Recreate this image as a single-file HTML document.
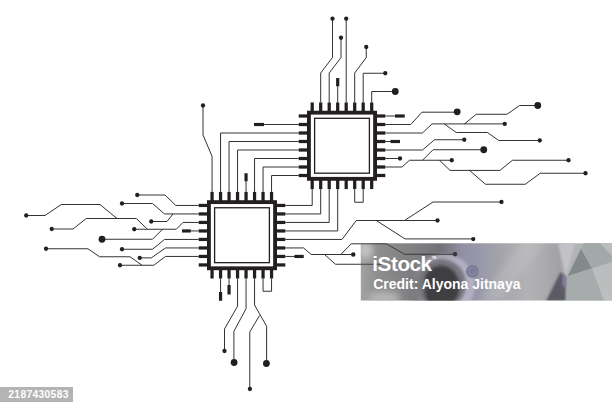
<!DOCTYPE html>
<html><head><meta charset="utf-8"><title>circuit</title>
<style>
html,body{margin:0;padding:0;background:#fff;}
body{width:612px;height:408px;position:relative;overflow:hidden;font-family:"Liberation Sans",sans-serif;}
#wa{position:absolute;left:372.3px;top:251.7px;font-size:20.7px;font-weight:bold;color:#fff;letter-spacing:-0.45px;line-height:24px;white-space:nowrap}
#wa sup{font-size:2.8px;font-weight:bold;vertical-align:top;position:relative;top:4.2px;left:0.3px;letter-spacing:0;line-height:4px}
#wb{position:absolute;left:373.2px;top:276.3px;font-size:14px;font-weight:bold;color:#fff;line-height:16px;white-space:nowrap;letter-spacing:0px}
#id{position:absolute;left:0;top:387px;width:72.5px;height:14.7px;background:#b4b4b4;}
#id span{position:absolute;left:8.3px;top:0;font-size:10.3px;font-weight:bold;color:#fff;line-height:15px;white-space:nowrap;letter-spacing:0.32px}
</style></head><body>
<svg width="612" height="408" viewBox="0 0 612 408" style="position:absolute;left:0;top:0">
<g id="tr">
<g fill="none" stroke="#231f20" stroke-width="0.92" stroke-linejoin="round">
<path d="M320.7,102.45 V73 L332.5,57.5 V18.7"/>
<path d="M329.2,102.45 V73 L341,57.5 V37.75"/>
<path d="M337.7,102.45 V80"/>
<path d="M346.2,102.45 V18.7"/>
<path d="M354.7,102.45 V73 L366.25,57.5 V47"/>
<path d="M363.2,102.45 V73.25 H385.25"/>
<path d="M371.7,102.45 V91.5 H395.25"/>
<path d="M385.3,116.0 H400"/>
<path d="M385.3,124.5 H410.75 L422,112.2 H457"/>
<path d="M385.3,133.0 H422.5 L432,123.9 H504.75"/>
<path d="M444.25,123.9 L456.25,132.5 H487.5 L498.75,140.5 H539.75"/>
<path d="M464.5,123.9 L476.25,114.25 H507 L519.5,105.5 H537.75"/>
<path d="M385.3,141.5 H395"/>
<path d="M385.3,150.0 H422.5 L434.5,139.75 H464.25"/>
<path d="M385.3,158.5 H400"/>
<path d="M385.3,167.0 H402 L409.5,160.25 H451.75"/>
<path d="M422.5,160.25 L433,149.75 H483.75"/>
<path d="M439.5,160.25 L450,170.4 H500 L512.5,160.25 H568.5"/>
<path d="M469.5,170.4 L485.5,184.25 H525.25 L540.25,173.25 H585.5"/>
<path d="M298.7,124.5 H260"/>
<path d="M298.7,133.0 H220.55 V191.89999999999998"/>
<path d="M298.7,141.5 H229.05 V191.89999999999998"/>
<path d="M298.7,150.0 H237.55 V191.89999999999998"/>
<path d="M298.7,158.5 H254.55 V191.89999999999998"/>
<path d="M298.7,167.0 H263.05 V191.89999999999998"/>
<path d="M298.7,175.5 H271.55 V191.89999999999998"/>
<path d="M212.05,191.89999999999998 V156.25 L203,135 V105.5"/>
<path d="M246.05,191.89999999999998 V178"/>
<path d="M312.2,189.05 V205.45 H285.3"/>
<path d="M320.7,189.05 V213.95 H285.3"/>
<path d="M329.2,189.05 V222.45 H285.3"/>
<path d="M337.7,189.05 V230.95 H285.3"/>
<path d="M354.7,189.05 V202.25 H363.2 V189.05"/>
<path d="M285.3,239.45 H342 L356.25,220.5 H437.5"/>
<path d="M376.25,220.5 L405,238.9 H473.25"/>
<path d="M404.5,220.5 L433,202 H501.5"/>
<path d="M285.3,247.95 H303.6 L311.2,254.5 H353.25"/>
<path d="M340.75,254.5 L351.25,243.8 H386.25 L404.5,254.25 H455"/>
<path d="M324.5,254.5 L335.5,264.25 H385.5"/>
<path d="M285.3,256.45 H298"/>
<path d="M198.7,205.45 H175.75 L165,195 H137.25"/>
<path d="M198.7,213.95 H164.5 L152.5,203.5 H122"/>
<path d="M173,213.95 L167,221.5 H151.25"/>
<path d="M198.7,222.45 H183 L176.25,229.25 H134.25"/>
<path d="M162.5,229.25 L152.5,239.25 H102"/>
<path d="M147.5,229.25 L136.25,218.5 H86.25 L73,229 H51.75"/>
<path d="M117,218.5 L100,204.5 H61.25 L45,215.5 H26.25"/>
<path d="M198.7,230.95 H186"/>
<path d="M198.7,239.45 H164.5 L152.5,249.25 H122"/>
<path d="M198.7,247.95 H165.5 L151.25,257.9 H139.75"/>
<path d="M198.7,256.45 H165.5 L153.75,265.25 H120"/>
<path d="M142,265.25 L130,256.75 H99.5 L88,248.75 H46"/>
<path d="M220.55,278.5 V296"/>
<path d="M229.05,278.5 V289"/>
<path d="M237.55,278.5 V306.25 L224.5,329 V351"/>
<path d="M246.05,278.5 V308.75 L233.9,331.25 V362.5"/>
<path d="M254.55,278.5 V305 L266.6,326.25 V363.5"/>
<path d="M259.5,315.5 L249.75,332 V389"/>
<path d="M263.05,278.5 V291.25 H271.55 V278.5"/>
</g>
<g stroke="#231f20" stroke-width="3.2">
<line x1="337.7" y1="78" x2="337.7" y2="86.25"/>
<line x1="395" y1="116.0" x2="404.75" y2="116.0"/>
<line x1="390.5" y1="141.5" x2="400" y2="141.5"/>
<line x1="254" y1="124.5" x2="264" y2="124.5"/>
<line x1="246.05" y1="173.25" x2="246.05" y2="181.25"/>
<line x1="294.5" y1="256.45" x2="303.75" y2="256.45"/>
<line x1="182" y1="230.95" x2="190.75" y2="230.95"/>
<line x1="220.55" y1="292" x2="220.55" y2="300.75"/>
<line x1="229.05" y1="285" x2="229.05" y2="294.5"/>
</g>
<g fill="#231f20">
<circle cx="332.5" cy="18.7" r="2.15"/>
<circle cx="341" cy="37.75" r="2.15"/>
<circle cx="346.2" cy="18.7" r="2.15"/>
<circle cx="366.25" cy="47" r="2.15"/>
<circle cx="385.25" cy="73.25" r="2.15"/>
<circle cx="395.25" cy="91.5" r="3.4"/>
<circle cx="457.2" cy="111.8" r="3.4"/>
<circle cx="504.75" cy="123.9" r="2.15"/>
<circle cx="539.75" cy="140.5" r="2.15"/>
<circle cx="537.75" cy="105.5" r="3.4"/>
<circle cx="464.25" cy="139.75" r="2.15"/>
<circle cx="400" cy="158.5" r="2.15"/>
<circle cx="451.75" cy="160.25" r="2.15"/>
<circle cx="483.75" cy="149.75" r="3.4"/>
<circle cx="568.5" cy="160.25" r="2.15"/>
<circle cx="585.5" cy="173.25" r="2.15"/>
<circle cx="203" cy="105.5" r="2.15"/>
<circle cx="437.5" cy="220.5" r="2.15"/>
<circle cx="473.25" cy="239.1" r="2.15"/>
<circle cx="501.5" cy="202" r="2.15"/>
<circle cx="353.25" cy="254.5" r="2.25"/>
<circle cx="455" cy="254.25" r="2.15"/>
<circle cx="137.25" cy="195" r="2.15"/>
<circle cx="122" cy="203.5" r="2.15"/>
<circle cx="151.25" cy="221.5" r="2.15"/>
<circle cx="134.25" cy="229.25" r="2.15"/>
<circle cx="102" cy="239.25" r="3.4"/>
<circle cx="51.75" cy="229" r="2.15"/>
<circle cx="26.25" cy="215.5" r="2.15"/>
<circle cx="122" cy="249.25" r="2.15"/>
<circle cx="139.75" cy="257.9" r="2.15"/>
<circle cx="120" cy="265.25" r="2.15"/>
<circle cx="46" cy="248.75" r="2.15"/>
<circle cx="224.5" cy="351" r="2.15"/>
<circle cx="234.1" cy="362.5" r="3.4"/>
<circle cx="266.4" cy="363.5" r="3.4"/>
<circle cx="249.9" cy="389" r="2.15"/>
</g>
</g>
<g fill="#231f20">
<rect x="310.57" y="102.45" width="3.25" height="86.60"/>
<rect x="298.70" y="114.38" width="86.60" height="3.25"/>
<rect x="319.07" y="102.45" width="3.25" height="86.60"/>
<rect x="298.70" y="122.88" width="86.60" height="3.25"/>
<rect x="327.57" y="102.45" width="3.25" height="86.60"/>
<rect x="298.70" y="131.38" width="86.60" height="3.25"/>
<rect x="336.07" y="102.45" width="3.25" height="86.60"/>
<rect x="298.70" y="139.88" width="86.60" height="3.25"/>
<rect x="344.57" y="102.45" width="3.25" height="86.60"/>
<rect x="298.70" y="148.38" width="86.60" height="3.25"/>
<rect x="353.07" y="102.45" width="3.25" height="86.60"/>
<rect x="298.70" y="156.88" width="86.60" height="3.25"/>
<rect x="361.57" y="102.45" width="3.25" height="86.60"/>
<rect x="298.70" y="165.38" width="86.60" height="3.25"/>
<rect x="370.07" y="102.45" width="3.25" height="86.60"/>
<rect x="298.70" y="173.88" width="86.60" height="3.25"/>
<rect x="307.00" y="110.75" width="70.0" height="70.0"/>
<rect x="310.85" y="114.60" width="62.3" height="62.3" fill="#fff"/>
<rect x="314.60" y="118.30" width="54.8" height="54.9" fill="#fff" stroke="#231f20" stroke-width="1.3"/>
<rect x="210.43" y="191.90" width="3.25" height="86.60"/>
<rect x="198.70" y="203.82" width="86.60" height="3.25"/>
<rect x="218.93" y="191.90" width="3.25" height="86.60"/>
<rect x="198.70" y="212.32" width="86.60" height="3.25"/>
<rect x="227.43" y="191.90" width="3.25" height="86.60"/>
<rect x="198.70" y="220.82" width="86.60" height="3.25"/>
<rect x="235.93" y="191.90" width="3.25" height="86.60"/>
<rect x="198.70" y="229.32" width="86.60" height="3.25"/>
<rect x="244.43" y="191.90" width="3.25" height="86.60"/>
<rect x="198.70" y="237.82" width="86.60" height="3.25"/>
<rect x="252.93" y="191.90" width="3.25" height="86.60"/>
<rect x="198.70" y="246.32" width="86.60" height="3.25"/>
<rect x="261.43" y="191.90" width="3.25" height="86.60"/>
<rect x="198.70" y="254.82" width="86.60" height="3.25"/>
<rect x="269.93" y="191.90" width="3.25" height="86.60"/>
<rect x="198.70" y="263.32" width="86.60" height="3.25"/>
<rect x="207.00" y="200.20" width="70.0" height="70.0"/>
<rect x="210.85" y="204.05" width="62.3" height="62.3" fill="#fff"/>
<rect x="214.60" y="207.75" width="54.8" height="54.9" fill="#fff" stroke="#231f20" stroke-width="1.3"/>
</g>

<defs>
<clipPath id="wmc"><rect x="360.8" y="243.2" width="251.2" height="57.2"/></clipPath>
<linearGradient id="wmg" gradientUnits="userSpaceOnUse" x1="361" y1="0" x2="612" y2="0">
<stop offset="0" stop-color="#a2a2a2"/>
<stop offset="0.06" stop-color="#8f8f90"/>
<stop offset="0.18" stop-color="#848486"/>
<stop offset="0.26" stop-color="#7b7b7f"/>
<stop offset="0.31" stop-color="#717176"/>
<stop offset="0.36" stop-color="#817f8c"/>
<stop offset="0.4" stop-color="#918fa4"/>
<stop offset="0.47" stop-color="#9998a9"/>
<stop offset="0.55" stop-color="#a3a3ab"/>
<stop offset="0.66" stop-color="#b3b3b5"/>
<stop offset="0.74" stop-color="#aaaaad"/>
<stop offset="0.79" stop-color="#a0a0a6"/>
<stop offset="0.82" stop-color="#b0b2b2"/>
<stop offset="1" stop-color="#b6b9b9"/>
</linearGradient>
<filter id="b1" x="-50%" y="-50%" width="200%" height="200%"><feGaussianBlur stdDeviation="1"/></filter>
<filter id="b05" x="-50%" y="-50%" width="200%" height="200%"><feGaussianBlur stdDeviation="0.5"/></filter>
<filter id="b15" x="-50%" y="-50%" width="200%" height="200%"><feGaussianBlur stdDeviation="1.5"/></filter>
<filter id="b2" x="-50%" y="-50%" width="200%" height="200%"><feGaussianBlur stdDeviation="2"/></filter>
<filter id="b3" x="-50%" y="-50%" width="200%" height="200%"><feGaussianBlur stdDeviation="3"/></filter>
<filter id="b5" x="-50%" y="-50%" width="200%" height="200%"><feGaussianBlur stdDeviation="5"/></filter>
</defs>
<g clip-path="url(#wmc)">
<rect x="360" y="243" width="252" height="58" fill="url(#wmg)"/>
<ellipse cx="366" cy="250" rx="7" ry="9" fill="#cfcfcf" opacity=".75" filter="url(#b3)"/>
<ellipse cx="384" cy="298" rx="16" ry="7" fill="#c6c6c6" opacity=".7" filter="url(#b3)"/>
<ellipse cx="410" cy="268" rx="24" ry="14" fill="#7d7d80" opacity=".45" filter="url(#b5)"/>
<circle cx="444" cy="285" r="31" fill="#bcbbcc" opacity=".75" filter="url(#b15)"/>
<circle cx="441" cy="284" r="25" fill="#707077" opacity=".9" filter="url(#b15)"/>
<ellipse cx="441" cy="286.5" rx="18.5" ry="21" fill="#3c3c40" opacity=".95" filter="url(#b15)"/>
<ellipse cx="416" cy="288" rx="8" ry="20" fill="#7b7b7f" opacity=".95" filter="url(#b3)"/>
<circle cx="472.3" cy="271.5" r="6.4" fill="#7a7894" opacity=".9" filter="url(#b05)"/>
<circle cx="472.3" cy="271.5" r="3.6" fill="none" stroke="#908eaa" stroke-width="1" opacity=".8"/>
<polygon points="520,243 545,243 500,301 480,301" fill="#c2c2c4" opacity=".45" filter="url(#b3)"/>
<polygon points="557.5,243 575,243 566,277" fill="#c4c4c9" filter="url(#b1)" opacity=".9"/>
<polygon points="560.5,272 566,277 565.5,301 546,301" fill="#56555f" filter="url(#b1)" opacity=".92"/>
<polygon points="562.3,275 566,277 565.6,288 562.5,286" fill="#8a86b0" filter="url(#b1)" opacity=".9"/>
<polygon points="581,248.6 567.6,276.2 592,268.3" fill="#828a8a" filter="url(#b05)"/>
<polygon points="581,248.6 612,298 612,262 600,243 584,243" fill="#a9adad" opacity=".9"/>
<polygon points="581,248.6 592,268.3 612,262 612,243 584,243" fill="#a2a7a7" opacity=".9"/>
<polygon points="600,243 612,243 612,256" fill="#bcbfbf" opacity=".9"/>
<polygon points="592,268.3 612,262 612,301 602,301" fill="#bdc0c0" opacity=".85"/>
<polygon points="567.6,276.2 592,268.3 604,301 566,301" fill="#a5aaaa" opacity=".9"/>
</g>

<use href="#tr" clip-path="url(#wmc)" opacity="0.8"/>
</svg>
<div id="wa">iStock<sup>TM</sup></div><div id="wb">Credit: Alyona Jitnaya</div>
<div id="id"><span>2187430583</span></div>
</body></html>
